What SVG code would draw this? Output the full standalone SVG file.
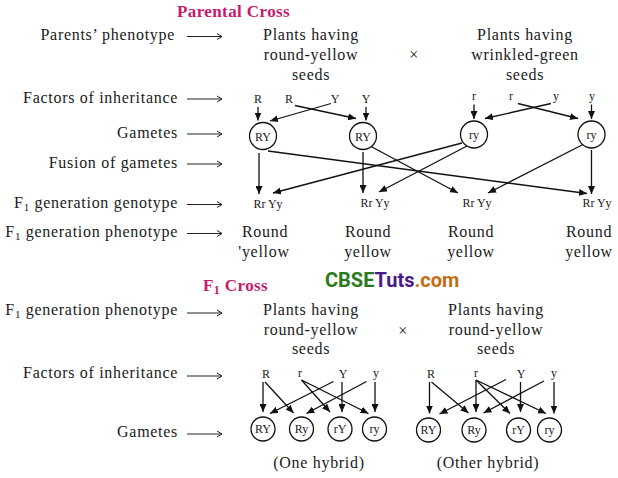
<svg xmlns="http://www.w3.org/2000/svg" width="618" height="478" viewBox="0 0 618 478">
<defs>
<style>
.lbl{font-family:"Liberation Serif",serif;font-size:16px;letter-spacing:0.7px;fill:#1a1a1a;text-anchor:end}
.txt{font-family:"Liberation Serif",serif;font-size:16px;letter-spacing:0.7px;fill:#1a1a1a;text-anchor:middle}
.sm{font-family:"Liberation Serif",serif;font-size:12px;fill:#1a1a1a;text-anchor:middle}
.ttl{font-family:"Liberation Serif",serif;font-size:17px;font-weight:bold;letter-spacing:0.4px;fill:#c8196e}
.cir{fill:none;stroke:#111;stroke-width:1.3}
.la{fill:none;stroke:#222;stroke-width:1}
.cn path{fill:none;stroke:#111;stroke-width:1.3;marker-end:url(#ah)}
</style>
<marker id="ah" viewBox="0 0 8 7" refX="8" refY="3.5" markerWidth="8" markerHeight="7" markerUnits="userSpaceOnUse" orient="auto">
<path d="M0,0 L8,3.5 L0,7 z" fill="#111"/>
</marker>
</defs>
<rect width="618" height="478" fill="#ffffff"/>

<g id="titles">
<text class="ttl" x="177" y="17">Parental Cross</text>
<text class="ttl" x="203" y="291">F<tspan font-size="12" dy="3">1</tspan><tspan dy="-3"> Cross</tspan></text>
<text x="325" y="287" font-family="Roboto,'Liberation Sans',sans-serif" font-weight="bold" font-size="20px"><tspan fill="#2b7a1c">CBSE</tspan><tspan fill="#4a1a8c">Tuts</tspan><tspan fill="#c46d12">.com</tspan></text>
</g>

<g id="row-labels">
<text class="lbl" x="175" y="40">Parents’ phenotype</text>
<text class="lbl" x="178" y="103">Factors of inheritance</text>
<text class="lbl" x="178" y="138">Gametes</text>
<text class="lbl" x="178" y="168">Fusion of gametes</text>
<text class="lbl" x="178" y="208">F<tspan font-size="11" dy="3">1</tspan><tspan dy="-3"> generation genotype</tspan></text>
<text class="lbl" x="178" y="237">F<tspan font-size="11" dy="3">1</tspan><tspan dy="-3"> generation phenotype</tspan></text>
<text class="lbl" x="178" y="315">F<tspan font-size="11" dy="3">1</tspan><tspan dy="-3"> generation phenotype</tspan></text>
<text class="lbl" x="178" y="378">Factors of inheritance</text>
<text class="lbl" x="178" y="437">Gametes</text>
<path class="la" d="M187,36.5h35m-5,-3l5,3l-5,3"/>
<path class="la" d="M187,99h35m-5,-3l5,3l-5,3"/>
<path class="la" d="M187,134h35m-5,-3l5,3l-5,3"/>
<path class="la" d="M187,164h35m-5,-3l5,3l-5,3"/>
<path class="la" d="M187,204.5h35m-5,-3l5,3l-5,3"/>
<path class="la" d="M187,233.5h35m-5,-3l5,3l-5,3"/>
<path class="la" d="M187,313h35m-5,-3l5,3l-5,3"/>
<path class="la" d="M187,376h35m-5,-3l5,3l-5,3"/>
<path class="la" d="M187,434h35m-5,-3l5,3l-5,3"/>
</g>

<g id="parent-ry">
<text class="txt" x="311" y="40">Plants having</text>
<text class="txt" x="311" y="60">round-yellow</text>
<text class="txt" x="311" y="80">seeds</text>
</g>
<text class="txt" x="414" y="60" id="cross1">×</text>
<g id="parent-wg">
<text class="txt" x="525" y="40">Plants having</text>
<text class="txt" x="525" y="60">wrinkled-green</text>
<text class="txt" x="525" y="80">seeds</text>
</g>

<g id="p-factors">
<text class="sm" x="258" y="103">R</text>
<text class="sm" x="289" y="103">R</text>
<text class="sm" x="335" y="103">Y</text>
<text class="sm" x="366" y="103">Y</text>
<text class="sm" x="474" y="100">r</text>
<text class="sm" x="511" y="100">r</text>
<text class="sm" x="556" y="100">y</text>
<text class="sm" x="592" y="100">y</text>
</g>

<g id="p-gamete-RY1"><circle class="cir" cx="263" cy="136" r="13.5"/><text class="sm" x="263" y="140.5">RY</text></g>
<g id="p-gamete-RY2"><circle class="cir" cx="363" cy="136" r="13.5"/><text class="sm" x="363" y="140.5">RY</text></g>
<g id="p-gamete-ry1"><circle class="cir" cx="474" cy="134.5" r="13.5"/><text class="sm" x="474" y="139">ry</text></g>
<g id="p-gamete-ry2"><circle class="cir" cx="591.5" cy="134.5" r="13.5"/><text class="sm" x="591.5" y="139">ry</text></g>

<g id="f1-genotypes">
<text class="sm" x="268" y="207.5">Rr Yy</text>
<text class="sm" x="375" y="207">Rr Yy</text>
<text class="sm" x="477" y="207">Rr Yy</text>
<text class="sm" x="597" y="207">Rr Yy</text>
</g>

<g id="f1-phenotypes">
<text class="txt" x="265" y="237">Round</text>
<text class="txt" x="264" y="257">'yellow</text>
<text class="txt" x="368" y="237">Round</text>
<text class="txt" x="368" y="257">yellow</text>
<text class="txt" x="471" y="237">Round</text>
<text class="txt" x="471" y="257">yellow</text>
<text class="txt" x="589" y="237">Round</text>
<text class="txt" x="589" y="257">yellow</text>
</g>

<g id="f1-parent-1">
<text class="txt" x="311" y="315">Plants having</text>
<text class="txt" x="311" y="335">round-yellow</text>
<text class="txt" x="311" y="354">seeds</text>
</g>
<text class="txt" x="403" y="336" id="cross2">×</text>
<g id="f1-parent-2">
<text class="txt" x="496" y="315">Plants having</text>
<text class="txt" x="496" y="335">round-yellow</text>
<text class="txt" x="496" y="354">seeds</text>
</g>

<g id="f1-factors">
<text class="sm" x="266" y="378">R</text>
<text class="sm" x="300" y="377">r</text>
<text class="sm" x="343" y="378">Y</text>
<text class="sm" x="376" y="377">y</text>
<text class="sm" x="431" y="378">R</text>
<text class="sm" x="476" y="377">r</text>
<text class="sm" x="521" y="378">Y</text>
<text class="sm" x="554" y="377">y</text>
</g>

<g id="h1-RY"><circle class="cir" cx="263" cy="429" r="12"/><text class="sm" x="263" y="433">RY</text></g>
<g id="h1-Ry"><circle class="cir" cx="301.5" cy="429" r="12"/><text class="sm" x="301.5" y="433">Ry</text></g>
<g id="h1-rY"><circle class="cir" cx="340" cy="429" r="12"/><text class="sm" x="340" y="433">rY</text></g>
<g id="h1-ry"><circle class="cir" cx="374.5" cy="429" r="12"/><text class="sm" x="374.5" y="433">ry</text></g>
<g id="h2-RY"><circle class="cir" cx="428.5" cy="430" r="12"/><text class="sm" x="428.5" y="434">RY</text></g>
<g id="h2-Ry"><circle class="cir" cx="474" cy="430" r="12"/><text class="sm" x="474" y="434">Ry</text></g>
<g id="h2-rY"><circle class="cir" cx="518.5" cy="430" r="12"/><text class="sm" x="518.5" y="434">rY</text></g>
<g id="h2-ry"><circle class="cir" cx="549.5" cy="430" r="12"/><text class="sm" x="549.5" y="434">ry</text></g>

<g id="hybrid-labels">
<text class="txt" x="319" y="468">(One hybrid)</text>
<text class="txt" x="488" y="468">(Other hybrid)</text>
</g>

<g id="connectors" class="cn">
<path d="M258,107 L258,120.5"/>
<path d="M295,105.5 L356,118.5"/>
<path d="M331,103.5 L270,121"/>
<path d="M366,107 L366,120.5"/>
<path d="M474,104.5 L474,119"/>
<path d="M518,103.5 L578,118.5"/>
<path d="M551,103.5 L485,118.5"/>
<path d="M591.5,104.5 L591.5,119"/>

<path d="M259,153 L259,194"/>
<path d="M268,151 L587,193.5"/>
<path d="M462,143 L273,193"/>
<path d="M363,152 L363,193"/>
<path d="M371,146.5 L458,193"/>
<path d="M467,146 L379,192"/>
<path d="M582,145 L488,193"/>
<path d="M591.5,150 L591.5,194"/>

<path d="M263,382 L263,412"/>
<path d="M265,382 L293.5,413"/>
<path d="M301.5,380 L330,412"/>
<path d="M301.5,380 L368.5,413.5"/>
<path d="M333.5,381.5 L270,413.5"/>
<path d="M342,382 L342,412"/>
<path d="M366.5,381.5 L306.5,413.5"/>
<path d="M375,382 L375,412"/>

<path d="M429.5,382 L429.5,413.5"/>
<path d="M431.5,382 L468.5,413"/>
<path d="M476,380 L476,412"/>
<path d="M476,380 L510,413.5"/>
<path d="M476,380 L546,413.5"/>
<path d="M506,379.5 L439.5,414"/>
<path d="M520.5,382 L520.5,412"/>
<path d="M544,381 L483.5,413"/>
<path d="M554,382 L554,413.5"/>
</g>
</svg>
